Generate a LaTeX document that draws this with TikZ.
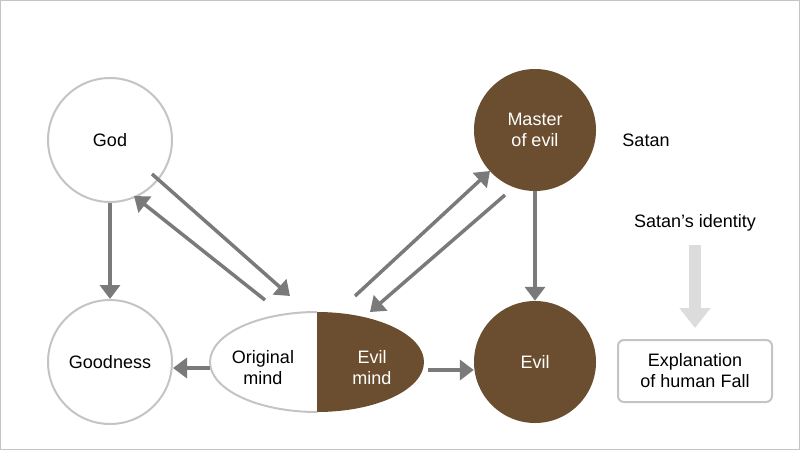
\documentclass[tikz,border=0pt]{standalone}
\usepackage{fontspec}
\setmainfont{Liberation Sans}
\usetikzlibrary{arrows.meta}
\definecolor{evilbrown}{HTML}{6B4E2F}
\definecolor{arrowgray}{HTML}{7A7A7A}
\definecolor{rimgray}{HTML}{C4C4C4}
\begin{document}
\begin{tikzpicture}[x=1pt,y=-1pt]

\tikzset{good/.style = {draw=rimgray, line width=2pt, circle, fill=white, minimum size=124pt, inner sep=0pt, font=\fontsize{18}{21}\selectfont, align=center}}
\tikzset{bad/.style = {circle, fill=evilbrown, text=white, minimum size=122pt, inner sep=0pt, font=\fontsize{18}{21}\selectfont, align=center}}
\tikzset{flow/.style = {draw=arrowgray, line width=3.5pt, -{Triangle[length=14pt,width=20pt]}}}
\tikzset{note/.style = {font=\fontsize{18}{21}\selectfont, align=center}}

\draw[rimgray, line width=1pt] (0.5,0.5) rectangle (799.5,449.5);
\useasboundingbox (0,0) rectangle (800,450);

% circles
\node[good] (god) at (110,140) {God};
\node[good] (goodness) at (110,362) {Goodness};
\node[bad] (master) at (535,130) {Master\\of evil};
\node[bad] (evil) at (535,362) {Evil};

% mind ellipse, split in two halves
\begin{scope}
\clip (317,300) rectangle (440,420);
\fill[evilbrown] (317,362) ellipse [x radius=107, y radius=50];
\end{scope}
\draw[rimgray, line width=2pt] (317,312) arc[start angle=-90, end angle=-270, x radius=107, y radius=50];
\node[note] (orig) at (263,368) {Original\\mind};
\node[note, text=white] (evilmind) at (372,368) {Evil\\mind};
\coordinate (mindL) at (210,368);
\coordinate (mindR) at (428,370);
\coordinate (mindTL) at (265,300);
\coordinate (mindTLin) at (290,296);
\coordinate (mindTR) at (355,296);
\coordinate (mindTRin) at (370,312);

% arrows
\draw[flow] (god) -- (goodness);
\draw[flow] (mindL) -- (goodness.east |- mindL);
\draw[flow] (mindR) -- (evil.west |- mindR);
\draw[flow] (master) -- (evil);
\draw[flow] (mindTL) -- (134,196);
\draw[flow] (152,174) -- (mindTLin);
\draw[flow] (mindTR) -- (490,171);
\draw[flow] (505,195) -- (mindTRin);

% right column
\node[note] (satan) at (646,140) {Satan};
\node[note] (ident) at (695,223) {Satan’s identity};
\node[note, draw=rimgray, line width=2pt, rounded corners=6pt, minimum width=154pt, minimum height=62pt] (fall) at (695,371) {Explanation\\of human Fall};
\draw[draw=rimgray!60, line width=12pt, -{Triangle[length=20pt,width=30pt]}] (ident.south |- 0,245) -- (fall.north |- 0,328);

\end{tikzpicture}
\end{document}
